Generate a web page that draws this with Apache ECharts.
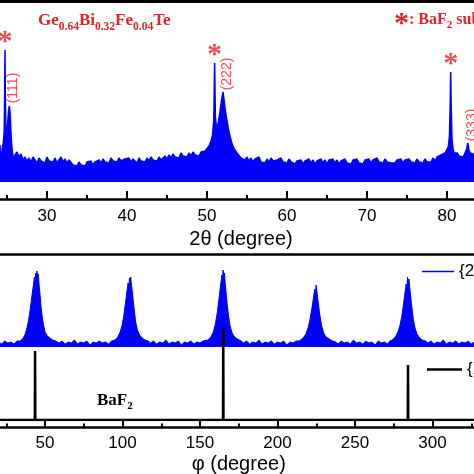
<!DOCTYPE html>
<html><head><meta charset="utf-8">
<script src="https://cdn.jsdelivr.net/npm/echarts@6/dist/echarts.min.js"></script>
<style>html,body{margin:0;padding:0;background:#fff}#c{width:474px;height:474px}</style>
</head><body><div id="c"></div>
<script>
// ---- 2theta scan (top panel) ----
const twoTheta = [
24.0,24.12,24.25,24.4,24.55,24.65,24.7,24.75,24.8,24.87,24.95,25.05,25.15,25.22,25.3,25.38,25.47,25.56,25.65,25.75,25.87,
26,26.25,26.5,26.75,27,27.25,27.5,27.75,28,28.25,28.5,28.75,29,29.25,29.5,29.75,30,30.25,30.5,30.75,
31,31.25,31.5,31.75,32,32.25,32.5,32.75,33,33.25,33.5,33.75,34,34.25,34.5,34.75,35,35.25,35.5,35.75,
36,36.25,36.5,36.75,37,37.25,37.5,37.75,38,38.25,38.5,38.75,39,39.25,39.5,39.75,40,40.25,40.5,40.75,
41,41.25,41.5,41.75,42,42.25,42.5,42.75,43,43.25,43.5,43.75,44,44.25,44.5,44.75,45,45.25,45.5,45.75,
46,46.25,46.5,46.75,47,47.25,47.5,47.75,48,48.25,48.5,48.75,49,49.25,49.5,49.75,
50,50.25,50.5,50.7,50.85,50.95,51.05,51.2,51.4,51.6,51.8,52,52.15,52.3,52.5,52.7,52.9,53.1,53.3,53.5,53.75,54,
54.25,54.5,54.75,55,55.25,55.5,55.75,56,56.25,56.5,56.75,57,57.25,57.5,57.75,58,58.25,58.5,58.75,59,
59.25,59.5,59.75,60,60.25,60.5,60.75,61,61.25,61.5,61.75,62,62.25,62.5,62.75,63,63.25,63.5,63.75,64,
64.25,64.5,64.75,65,65.25,65.5,65.75,66,66.25,66.5,66.75,67,67.25,67.5,67.75,68,68.25,68.5,68.75,69,
69.25,69.5,69.75,70,70.25,70.5,70.75,71,71.25,71.5,71.75,72,72.25,72.5,72.75,73,73.25,73.5,73.75,74,
74.25,74.5,74.75,75,75.25,75.5,75.75,76,76.25,76.5,76.75,77,77.25,77.5,77.75,78,78.25,78.5,78.75,79,
79.25,79.5,79.75,80,
80.15,80.3,80.4,80.46,80.52,80.62,80.75,80.9,81.1,81.3,81.5,81.75,82,82.25,82.45,82.6,82.75,82.9,83.05,83.25,83.5,83.75
];
const xrdCounts = [
45,54,33,50,57,68,100,149,100,66,60,72,84,90,93,86,70,57,49,43,38,
44,47,42,45,39,42,38,41,37,42,39,36,41,38,40,36,42,38,40,37,
41,36,39,42,37,40,36,39,37,34,36,33,37,34,36,33,37,35,38,34,
37,35,39,36,40,37,39,36,41,38,40,37,41,38,36,40,38,41,37,40,
38,36,41,38,40,37,41,38,42,39,41,38,42,39,41,43,40,44,41,45,
42,44,41,46,43,45,42,46,43,47,44,46,43,47,45,48,
50,53,58,64,80,136,82,70,76,86,98,107,98,88,78,69,62,56,52,49,46,44,
41,43,39,42,38,41,37,40,38,42,37,39,36,40,37,41,38,36,39,37,
41,37,39,36,40,37,39,35,38,36,39,35,38,36,40,36,39,35,38,36,
40,36,39,35,39,37,40,36,39,35,38,36,40,36,38,35,39,37,40,36,
38,35,39,37,40,36,39,37,41,37,39,36,40,37,39,36,38,36,39,37,
40,36,39,37,40,37,39,36,40,37,39,36,40,37,39,37,41,38,42,40,
44,42,46,47,
52,62,95,127,95,60,50,46,44,46,43,45,42,46,50,56,49,46,45,45,44,43
];
const substrate2Theta = [24.75, 50.95, 80.46];
const substrateCounts = [149, 136, 127];
const film2Theta = [25.3, 52.0, 82.6];
const filmCounts = [93, 107, 56];
const filmHkl = ['(111)', '(222)', '(333)'];

// ---- phi scans (bottom panel) ----
const phiFilm = [
20,22,24,26,28,30,32,
34,35.5,37,38.2,39.2,40.3,41.4,42.5,43.2,43.6,44.0,44.4,44.8,45.2,45.7,46.2,46.8,47.4,47.9,48.8,50,51.5,53.2,55,57,
59,61,63,65,67,69,71,73,75,77,79,81,83,85,87,89,91,93,
95,97,98.5,99.8,100.9,101.9,102.9,103.6,104.1,104.5,104.9,105.3,105.8,106.4,107,107.7,108.5,109.6,111,112.7,114.5,116.5,
118,120,122,124,126,128,130,132,134,136,138,140,142,144,146,148,150,152,
155,157,158.6,159.9,161,162,162.9,163.6,164.1,164.5,164.9,165.3,165.8,166.3,166.9,167.6,168.4,169.4,170.7,172.3,174.2,176.5,
178,180,182,184,186,188,190,192,194,196,198,200,202,204,206,208,210,212,
214,216.5,218.3,219.7,220.9,222,222.9,223.6,224.1,224.5,224.9,225.4,226,226.7,227.5,228.5,229.8,231.3,233.3,235.5,
237.5,239,241,243,245,247,249,251,253,255,257,259,261,263,265,267,269,271,272.5,
274,276,277.7,279.1,280.3,281.3,282.3,283.0,283.5,283.9,284.3,284.8,285.4,286.1,286.8,287.6,288.7,290,291.7,293.5,295.5,
297,299,301,303,305,307,309,311,313,315,317,319,321,323,325,327
];
const filmPhiCounts = [
5,3,6,4,5,3,6,
6,8,12,18,25,36,49,62,70,66,74,69,76,70,73,62,52,41,34,24,15,11,9,7,6,
4,6,3,5,4,7,3,5,4,6,2,5,4,6,4,5,3,6,
7,10,15,22,32,44,56,64,60,69,63,70,62,54,45,35,25,17,12,9,7,6,
4,6,3,5,4,7,3,5,4,6,2,5,4,6,3,5,4,6,
7,10,15,23,33,45,57,66,72,67,77,70,74,63,53,42,31,21,14,10,8,6,
4,6,3,5,4,7,3,5,4,6,3,5,4,6,2,5,4,6,
6,9,13,19,27,37,46,54,58,52,62,56,48,39,30,21,14,10,8,6,
5,3,6,4,5,3,7,4,5,3,6,4,5,2,6,4,5,3,6,
7,10,15,22,32,43,55,63,59,70,64,68,58,48,38,28,19,13,9,7,6,
4,6,3,5,4,7,3,5,4,6,3,5,4,6,3,5
];
const baf2Phi = [43.6, 165.0, 284.2];
const baf2Counts = [69, 92, 55];

const RED = '#e8202a';
const SANS = 'Liberation Sans';
const SERIF = 'Liberation Serif';

const xrdData = twoTheta.map((t, i) => [t, xrdCounts[i]]);
const filmPhiData = phiFilm.map((p, i) => [p, filmPhiCounts[i]]);
const baf2Data = [[0, 0]];
baf2Phi.forEach((p, i) => { baf2Data.push([p - 0.15, 0], [p, baf2Counts[i]], [p + 0.15, 0]); });
baf2Data.push([350, 0]);

const chart = echarts.init(document.getElementById('c'), null, {renderer: 'canvas'});
const tickLine = {color: '#000', width: 2};
const mainRich = (c, fs) => ({fontFamily: SERIF, fontWeight: 'bold', fontSize: fs, lineHeight: fs, verticalAlign: 'top', color: c});
const subRich = (c, fs, p) => ({fontFamily: SERIF, fontWeight: 'bold', fontSize: fs, lineHeight: fs, verticalAlign: 'top', padding: [p, 0, 0, 0], color: c});
chart.setOption({
  animation: false,
  backgroundColor: '#fff',
  title: [
    {text: '{m|Ge}{s|0.64}{m|Bi}{s|0.32}{m|Fe}{s|0.04}{m|Te}', left: 38, top: 12, padding: 0,
     textStyle: {rich: {m: mainRich(RED, 17), s: subRich(RED, 11.5, 9)}}},
    {text: '{st|*}{m|: BaF}{s|2}{m| substrate}', left: 394, top: 12, padding: 0,
     textStyle: {rich: {st: {fontFamily: SERIF, fontWeight: 'bold', fontSize: 30, lineHeight: 30, verticalAlign: 'top', padding: [-3, 0, 0, 0], color: RED},
                        m: mainRich(RED, 16), s: subRich(RED, 11, 8)}}},
    {text: '{m|BaF}{s|2}', left: 97, top: 392, padding: 0,
     textStyle: {rich: {m: mainRich('#000', 17), s: subRich('#000', 11, 9)}}}
  ],
  legend: [
    {data: ['{220} film'], left: 422, top: 263, itemWidth: 32, itemHeight: 1.5, icon: 'rect', padding: 0,
     textStyle: {fontFamily: SANS, fontSize: 17, color: '#000'}},
    {data: ['{220} BaF₂'], left: 427, top: 361, itemWidth: 35, itemHeight: 2.5, icon: 'rect', padding: 0,
     textStyle: {fontFamily: SANS, fontSize: 17, color: '#000'}}
  ],
  grid: [
    {left: -33, width: 560, top: 2, height: 180, outerBoundsMode: 'none', containLabel: false},
    {left: -32.5, width: 542.5, top: 254, height: 93, outerBoundsMode: 'none', containLabel: false},
    {left: -32.5, width: 542.5, top: 254, height: 166, outerBoundsMode: 'none', containLabel: false}
  ],
  xAxis: [
    {gridIndex: 0, type: 'value', min: 20, max: 90, interval: 10, position: 'bottom', offset: 17,
     axisLine: {onZero: false, lineStyle: {color: '#000', width: 2.5}},
     axisTick: {inside: true, length: 8, lineStyle: tickLine},
     minorTick: {show: true, splitNumber: 2, length: 4, lineStyle: tickLine},
     axisLabel: {fontFamily: SANS, fontSize: 17, color: '#000', margin: 9},
     splitLine: {show: false},
     name: '2θ (degree)', nameLocation: 'middle', nameGap: 30,
     nameTextStyle: {fontFamily: SANS, fontSize: 20, color: '#000', padding: [0, 12, 0, 0]}},
    {gridIndex: 0, type: 'value', min: 20, max: 90, position: 'top', offset: 1,
     axisLine: {onZero: false, lineStyle: {color: '#000', width: 3}},
     axisTick: {show: false}, axisLabel: {show: false}, splitLine: {show: false}},
    {gridIndex: 1, type: 'value', min: 0, max: 350, position: 'top',
     axisLine: {onZero: false, lineStyle: {color: '#000', width: 2.5}},
     axisTick: {show: false}, axisLabel: {show: false}, splitLine: {show: false}},
    {gridIndex: 2, type: 'value', min: 0, max: 350, interval: 50, position: 'bottom', offset: 7,
     axisLine: {onZero: false, lineStyle: {color: '#000', width: 2.5}},
     axisTick: {inside: true, length: 7, lineStyle: tickLine},
     minorTick: {show: true, splitNumber: 2, length: 3.5, lineStyle: tickLine},
     axisLabel: {fontFamily: SANS, fontSize: 17, color: '#000', margin: 8},
     splitLine: {show: false},
     name: 'φ (degree)', nameLocation: 'middle', nameGap: 27,
     nameTextStyle: {fontFamily: SANS, fontSize: 20, color: '#000'}}
  ],
  yAxis: [
    {gridIndex: 0, type: 'value', min: 17, max: 197, show: false, splitLine: {show: false}},
    {gridIndex: 1, type: 'value', min: 0, max: 93, show: false, splitLine: {show: false}},
    {gridIndex: 2, type: 'value', min: 0, max: 166, show: false, splitLine: {show: false}}
  ],
  series: [
    {name: '2theta', type: 'line', xAxisIndex: 0, yAxisIndex: 0, data: xrdData, symbol: 'none',
     lineStyle: {color: '#0000ff', width: 1.5}, itemStyle: {color: '#0000ff'},
     areaStyle: {color: '#0000ff', opacity: 1, origin: 'start'}},
    {name: 'stars', type: 'scatter', xAxisIndex: 0, yAxisIndex: 0, symbolSize: 1,
     itemStyle: {color: 'rgba(0,0,0,0)'},
     data: substrate2Theta.map((t, i) => [t, substrateCounts[i]]),
     label: {show: true, formatter: '*', position: 'inside', offset: [0, -8],
             fontFamily: SERIF, fontWeight: 'bold', fontSize: 30, color: RED}},
    {name: 'hkl', type: 'scatter', xAxisIndex: 0, yAxisIndex: 0, symbolSize: 1,
     itemStyle: {color: 'rgba(0,0,0,0)'},
     data: film2Theta.map((t, i) => ({value: [t, filmCounts[i]], name: filmHkl[i]})),
     label: {show: true, formatter: '{b}', position: 'inside', rotate: 90, offset: [18, 4],
             fontFamily: SANS, fontSize: 14, color: RED}},
    {name: '{220} film', type: 'line', xAxisIndex: 2, yAxisIndex: 1, data: filmPhiData, symbol: 'none',
     lineStyle: {color: '#0000ff', width: 1}, itemStyle: {color: '#0000ff'},
     areaStyle: {color: '#0000ff', opacity: 1, origin: 'start'}},
    {name: '{220} BaF₂', type: 'line', xAxisIndex: 3, yAxisIndex: 2, data: baf2Data, symbol: 'none', z: 5,
     lineStyle: {color: '#000', width: 2.5}, itemStyle: {color: '#000'}}
  ]
});
</script></body></html>
